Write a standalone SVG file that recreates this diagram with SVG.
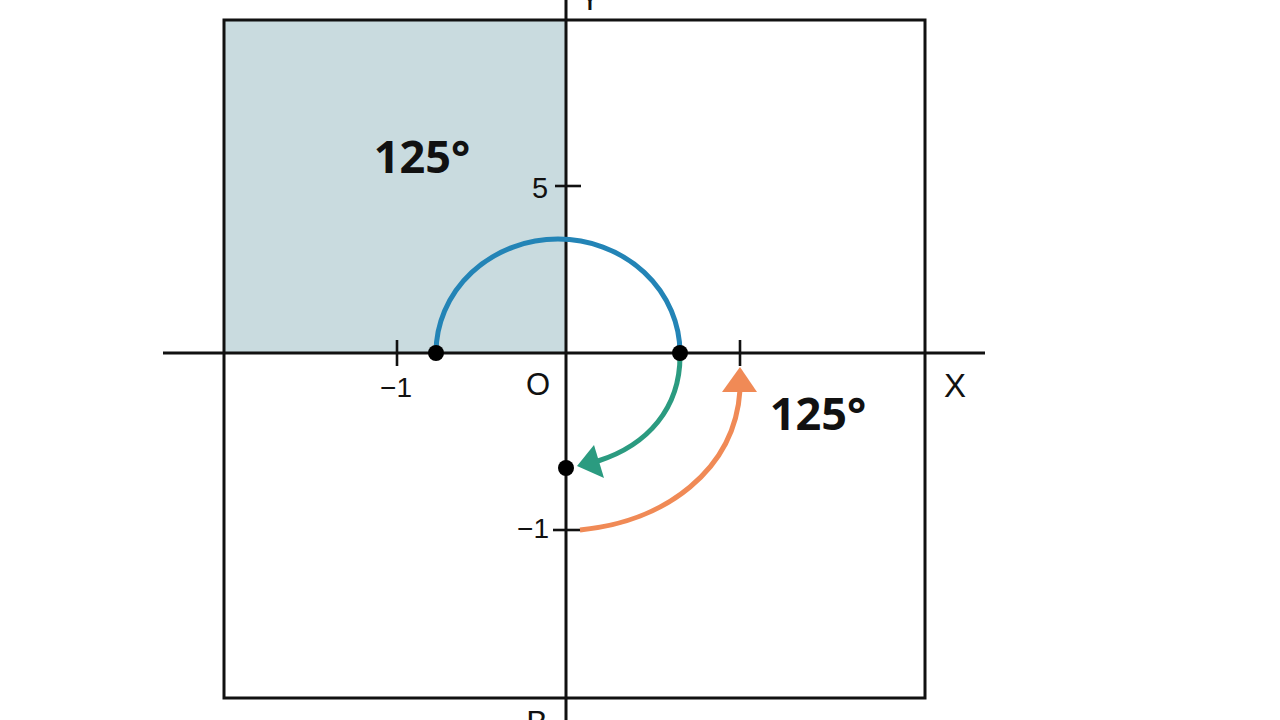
<svg xmlns="http://www.w3.org/2000/svg" width="1280" height="720" viewBox="0 0 1280 720">
<defs>
<style>
.ln{stroke:#111;stroke-width:3;fill:none}
.tk{stroke:#111;stroke-width:2.6}
.lab{font-family:"Liberation Sans",Arial,sans-serif;fill:#111}
.big{font-family:"Open Sans","Liberation Sans",sans-serif;font-weight:bold;font-size:45px;fill:#111}
</style>
</defs>
<rect width="1280" height="720" fill="#ffffff"/>
<g id="quadrant">
<rect x="224" y="20" width="342" height="333" fill="#c9dbdf"/>
</g>
<g id="frame">
<rect x="224" y="20" width="701" height="678" class="ln"/>
</g>
<g id="axes">
<line x1="163" y1="353" x2="985" y2="353" class="ln"/>
<line x1="566" y1="0" x2="566" y2="720" class="ln"/>
<line x1="397" y1="340" x2="397" y2="366" class="tk"/>
<line x1="740" y1="340" x2="740" y2="366" class="tk"/>
<line x1="555" y1="186" x2="581" y2="186" class="tk"/>
<line x1="553" y1="530" x2="581" y2="530" class="tk"/>
</g>
<g id="labels">
<text x="396" y="397" class="lab" font-size="28" text-anchor="middle">−1</text>
<text x="538" y="395" class="lab" font-size="31" text-anchor="middle">O</text>
<text x="955" y="397" class="lab" font-size="33" text-anchor="middle">X</text>
<text x="540" y="198" class="lab" font-size="29" text-anchor="middle">5</text>
<text x="549" y="538" class="lab" font-size="28" text-anchor="end">−1</text>
<text x="590" y="10" class="lab" font-size="32" text-anchor="middle">Y</text>
<text x="537" y="733" class="lab" font-size="32" text-anchor="middle">B</text>
<text x="422" y="173" class="big" text-anchor="middle">125°</text>
<text x="818" y="430" class="big" text-anchor="middle">125°</text>
</g>
<g id="connectors">
<path id="blue-arc" d="M436,353 A122,114 0 0 1 680,353" fill="none" stroke="#2384b6" stroke-width="5"/>
<path id="green-arc" d="M680,356 C680,408 648,445 598,461" fill="none" stroke="#2b9b80" stroke-width="5"/>
<polygon points="577,466 594,445 604,478" fill="#2b9b80"/>
<path id="orange-arc" d="M580,530 C665,522 735,470 740,390" fill="none" stroke="#f08a56" stroke-width="5"/>
<polygon points="740,367 722,392 757,392" fill="#f08a56"/>
</g>
<g id="points">
<circle cx="436" cy="353" r="8" fill="#000"/>
<circle cx="680" cy="353" r="8" fill="#000"/>
<circle cx="566" cy="468" r="8" fill="#000"/>
</g>
</svg>
